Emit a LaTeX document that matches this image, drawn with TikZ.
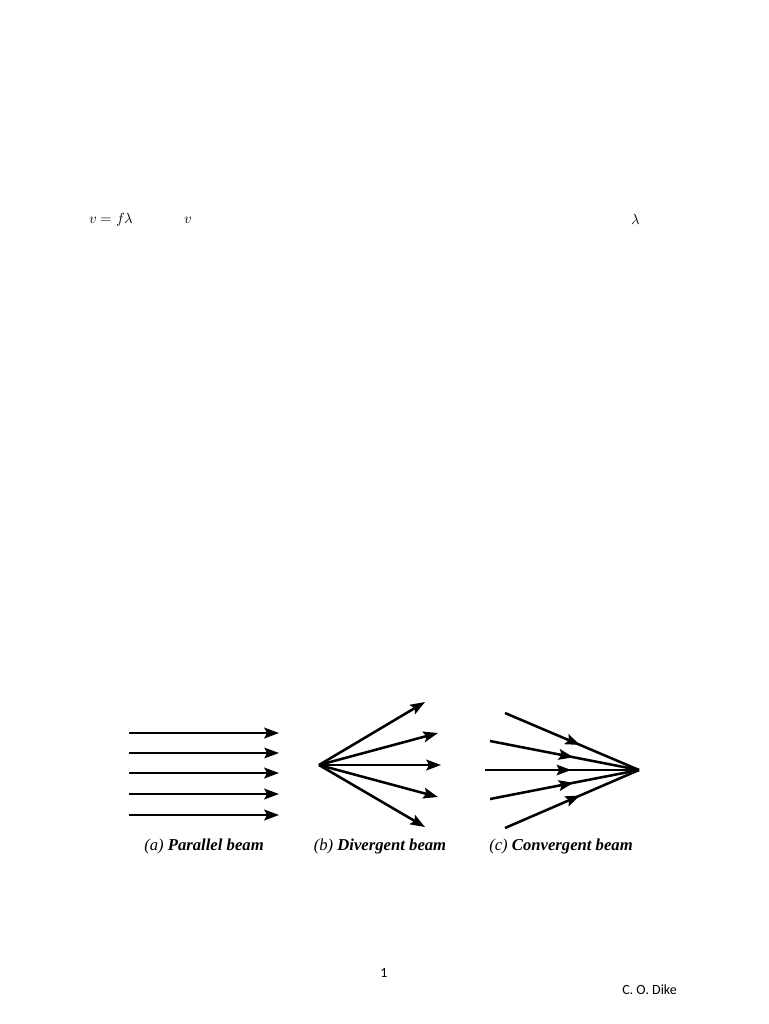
\documentclass[tikz,border=0pt]{standalone}
\usepackage{fontspec}
\setmainfont{Liberation Serif}
\newfontfamily\calibri{Carlito}
\usepackage{unicode-math}
\setmathfont{Latin Modern Math}
\usetikzlibrary{arrows.meta,decorations.markings}
\tikzset{
  ray/.style={line width=1.9pt,-{Stealth[length=11pt,width=8pt,inset=2pt]}},
  thinray/.style={ray,line width=1.2pt},
  midray/.style={line width=1.9pt,postaction={decorate},decoration={markings,
      mark=at position 0.56 with {\arrow{Stealth[length=11pt,width=8pt,inset=2pt]}}}},
  thinmidray/.style={midray,line width=1.1pt},
  eqtext/.style={font=\fontsize{11}{13}\selectfont,inner sep=0pt},
  caption/.style={font=\fontsize{12.5}{15}\selectfont,inner sep=0pt},
  foot/.style={font=\calibri\fontsize{10.5}{12}\selectfont,inner sep=0pt}
}
\begin{document}
\begin{tikzpicture}[x=0.75pt,y=-0.75pt]
\useasboundingbox[fill=white] (0,0) rectangle (768,1024);
% formula line
\node[eqtext,anchor=west] (eq) at (89,220) {$v=f\lambda$};
\node[eqtext,anchor=west] (vv) at (184,220) {$v$};
\node[eqtext,anchor=west] (lam) at (631,220) {$\lambda$};
% (a) parallel beam
\foreach \i/\y/\st in {1/733/ray,2/753/thinray,3/773/ray,4/794/ray,5/815/ray}{
  \coordinate (pa\i) at (129,\y);
  \coordinate (pb\i) at (279,\y);
  \draw[\st] (pa\i) -- (pb\i);
}
% (b) divergent beam
\coordinate (dsrc) at (319,765);
\coordinate (d1) at (425,702);
\coordinate (d2) at (438,733);
\coordinate (d3) at (441,765);
\coordinate (d4) at (438,797);
\coordinate (d5) at (425,827);
\foreach \i in {1,...,5}{\draw[ray,line join=miter] (dsrc) -- (d\i);}
% (c) convergent beam
\coordinate (cdst) at (639,770);
\coordinate (c1) at (505,713);
\coordinate (c2) at (490,741);
\coordinate (c3) at (485,770);
\coordinate (c4) at (490,799);
\coordinate (c5) at (505,828);
\foreach \i/\st in {1/midray,2/midray,3/thinmidray,4/midray,5/midray}{\draw[\st] (c\i) -- (cdst);}
% captions
\node[caption] (capa) at (204,846) {\textit{(a)} \textbf{\textit{Parallel beam}}};
\node[caption] (capb) at (380,846) {\textit{(b)} \textbf{\textit{Divergent beam}}};
\node[caption] (capc) at (561,846) {\textit{(c)} \textbf{\textit{Convergent beam}}};
% footer
\node[foot] (pg) at (384,973) {1};
\node[foot,anchor=west] (auth) at (622,990) {C. O. Dike};
\end{tikzpicture}
\end{document}
